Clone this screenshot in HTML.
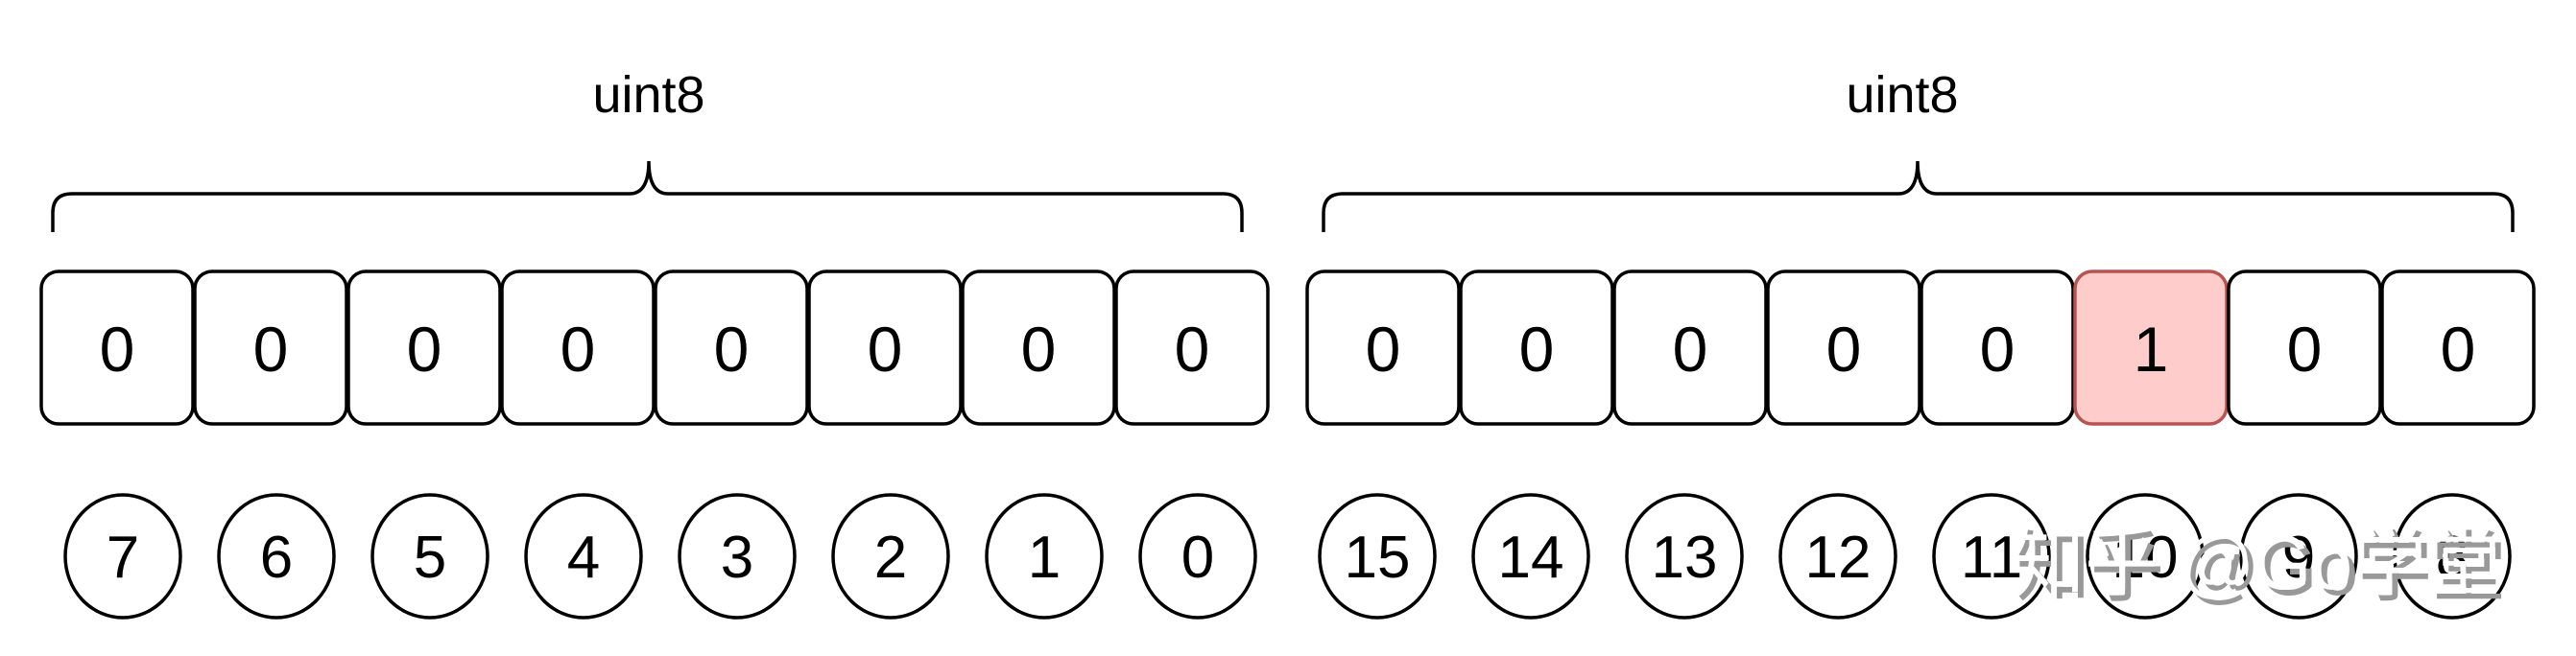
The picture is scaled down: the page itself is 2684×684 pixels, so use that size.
<!DOCTYPE html>
<html><head><meta charset="utf-8"><style>html,body{margin:0;padding:0;background:#fff}svg{display:block}</style></head><body>
<svg width="2684" height="684" viewBox="0 0 2684 684" xmlns="http://www.w3.org/2000/svg" font-family="Liberation Sans, Arial, sans-serif">
<g fill="none" stroke="#000" stroke-width="3.5">
<path d="M55 242 V222 Q55 202 75 202 H656 Q676 202 676 168 Q676 202 696 202 H1274 Q1294 202 1294 222 V242"/>
<path d="M1379 242 V222 Q1379 202 1399 202 H1978 Q1998 202 1998 168 Q1998 202 2018 202 H2598 Q2618 202 2618 222 V242"/>
</g>
<text x="676" y="117" font-size="54" text-anchor="middle">uint8</text>
<text x="1982" y="117" font-size="54" text-anchor="middle">uint8</text>
<g stroke="#000" stroke-width="3.5" fill="#fff">
<rect x="43" y="283" width="158" height="159" rx="18"/>
<rect x="203" y="283" width="158" height="159" rx="18"/>
<rect x="363" y="283" width="158" height="159" rx="18"/>
<rect x="523" y="283" width="158" height="159" rx="18"/>
<rect x="683" y="283" width="158" height="159" rx="18"/>
<rect x="843" y="283" width="158" height="159" rx="18"/>
<rect x="1003" y="283" width="158" height="159" rx="18"/>
<rect x="1163" y="283" width="158" height="159" rx="18"/>
<rect x="1362" y="283" width="158" height="159" rx="18"/>
<rect x="1522" y="283" width="158" height="159" rx="18"/>
<rect x="1682" y="283" width="158" height="159" rx="18"/>
<rect x="1842" y="283" width="158" height="159" rx="18"/>
<rect x="2002" y="283" width="158" height="159" rx="18"/>
<rect x="2162" y="283" width="158" height="159" rx="18" fill="#ffcccc" stroke="#b85450"/>
<rect x="2322" y="283" width="158" height="159" rx="18"/>
<rect x="2482" y="283" width="158" height="159" rx="18"/>
</g>
<g font-size="66" text-anchor="middle">
<text x="122" y="387">0</text><text x="282" y="387">0</text><text x="442" y="387">0</text><text x="602" y="387">0</text>
<text x="762" y="387">0</text><text x="922" y="387">0</text><text x="1082" y="387">0</text><text x="1242" y="387">0</text>
<text x="1441" y="387">0</text><text x="1601" y="387">0</text><text x="1761" y="387">0</text><text x="1921" y="387">0</text>
<text x="2081" y="387">0</text><text x="2241" y="387">1</text><text x="2401" y="387">0</text><text x="2561" y="387">0</text>
</g>
<g stroke="#000" stroke-width="3.5" fill="#fff">
<ellipse cx="128" cy="580" rx="60" ry="64"/><ellipse cx="288" cy="580" rx="60" ry="64"/>
<ellipse cx="448" cy="580" rx="60" ry="64"/><ellipse cx="608" cy="580" rx="60" ry="64"/>
<ellipse cx="768" cy="580" rx="60" ry="64"/><ellipse cx="928" cy="580" rx="60" ry="64"/>
<ellipse cx="1088" cy="580" rx="60" ry="64"/><ellipse cx="1248" cy="580" rx="60" ry="64"/>
<ellipse cx="1435" cy="580" rx="60" ry="64"/><ellipse cx="1595" cy="580" rx="60" ry="64"/>
<ellipse cx="1755" cy="580" rx="60" ry="64"/><ellipse cx="1915" cy="580" rx="60" ry="64"/>
<ellipse cx="2075" cy="580" rx="60" ry="64"/><ellipse cx="2235" cy="580" rx="60" ry="64"/>
<ellipse cx="2395" cy="580" rx="60" ry="64"/><ellipse cx="2555" cy="580" rx="60" ry="64"/>
</g>
<g font-size="62" text-anchor="middle">
<text x="128" y="602">7</text><text x="288" y="602">6</text><text x="448" y="602">5</text><text x="608" y="602">4</text>
<text x="768" y="602">3</text><text x="928" y="602">2</text><text x="1088" y="602">1</text><text x="1248" y="602">0</text>
<text x="1435" y="602">15</text><text x="1595" y="602">14</text><text x="1755" y="602">13</text><text x="1915" y="602">12</text>
<text x="2075" y="602">11</text><text x="2235" y="602">10</text><text x="2395" y="602">9</text><text x="2555" y="602">8</text>
</g>
<g font-family="Liberation Sans, Noto Sans CJK SC, sans-serif" font-size="80">
<text x="2101" y="620" fill="#999" textLength="510" lengthAdjust="spacingAndGlyphs">知乎 @Go学堂</text>
<text x="2095" y="614" fill="#fff" textLength="510" lengthAdjust="spacingAndGlyphs">知乎 @Go学堂</text>
</g>
</svg>
</body></html>
